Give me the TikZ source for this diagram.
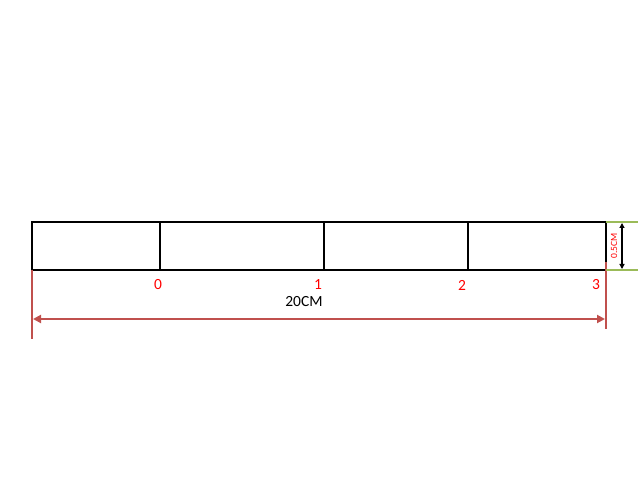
\documentclass[tikz,border=0pt]{standalone}
\usepackage{fontspec}
\setmainfont{Carlito}
\usetikzlibrary{arrows.meta}
\definecolor{offred}{RGB}{192,80,77}
\definecolor{offgreen}{RGB}{155,187,89}
\tikzset{
  box/.style={draw=black,line width=1.5pt},
  redline/.style={draw=offred,line width=2.5pt},
  num/.style={text=red,font=\fontsize{15.5}{15.5}\selectfont,inner sep=0pt},
}
\begin{document}
\begin{tikzpicture}[x=1pt,y=-1pt]
\useasboundingbox[fill=white] (0,0) rectangle (638,478);
% bar
\coordinate (tl) at (32,222);
\coordinate (br) at (606,270);
\draw[box] (tl) rectangle (br);
\coordinate (d1t) at (160,222); \coordinate (d1b) at (160,270);
\coordinate (d2t) at (324,222); \coordinate (d2b) at (324,270);
\coordinate (d3t) at (468,222); \coordinate (d3b) at (468,270);
\draw[box] (d1t) -- (d1b) (d2t) -- (d2b) (d3t) -- (d3b);
% labels
\node[num] (n0) at (158,285) {0};
\node[num] (n1) at (318,285) {1};
\node[num] (n2) at (462,285) {2};
\node[num] (n3) at (596,285) {3};
% extension lines
\coordinate (l1) at (32,270);
\coordinate (l2) at (32,339);
\coordinate (r1) at (606,262);
\coordinate (r2) at (606,329);
\draw[redline] (l1) -- (l2);
\draw[redline] (r1) -- (r2);
\coordinate (a1) at (32,319);
\coordinate (a2) at (606,319);
\draw[redline,{Triangle[length=8pt,width=8pt]}-{Triangle[length=8pt,width=8pt]},shorten <=1pt,shorten >=1pt] (a1) -- (a2);
\node[font=\fontsize{15.5}{15.5}\selectfont,inner sep=0pt] (len) at (304,302) {20CM};
% green
\coordinate (g1) at (606,222);
\coordinate (g2) at (638,222);
\coordinate (g3) at (606,270);
\coordinate (g4) at (638,270);
\draw[offgreen,line width=1.5pt] (g1) -- (g2);
\draw[offgreen,line width=1.5pt] (g3) -- (g4);
\coordinate (h1) at (622,223);
\coordinate (h2) at (622,269);
\draw[line width=1.2pt,{Triangle[length=5pt,width=5pt]}-{Triangle[length=5pt,width=5pt]}] (h1) -- (h2);
\node[text=red,font=\fontsize{9.5}{9.5}\selectfont,rotate=90,inner sep=0pt] (hl) at (614,246) {0.5CM};
\end{tikzpicture}
\end{document}
